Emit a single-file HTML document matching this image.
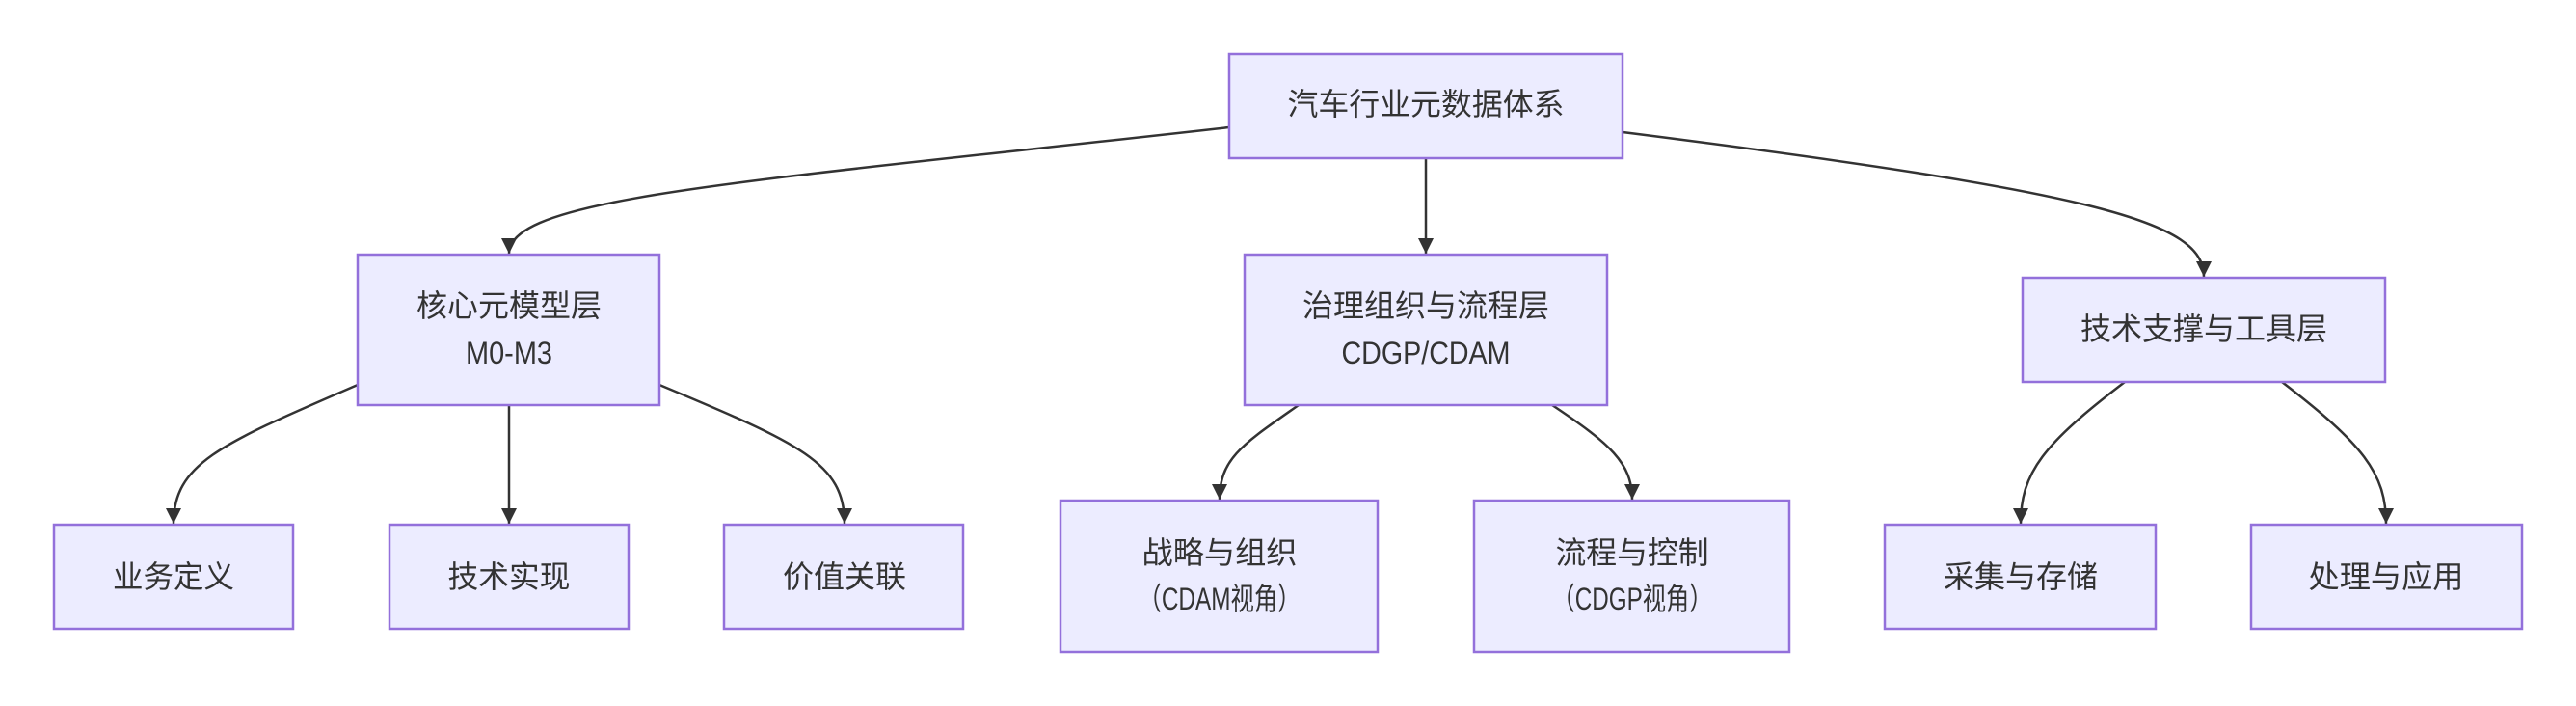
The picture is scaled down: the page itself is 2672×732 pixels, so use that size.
<!DOCTYPE html>
<html><head><meta charset="utf-8"><style>
html,body{margin:0;padding:0;background:#fff;}
svg{display:block;}
text{font-family:"Liberation Sans","Noto Sans CJK SC",sans-serif;fill:#333;font-size:32px;dominant-baseline:central;text-anchor:middle;}
.n{fill:#ECECFF;stroke:#9370DB;stroke-width:2.5;}
.e{fill:none;stroke:#333;stroke-width:2.5;}
</style></head><body>
<svg width="2672" height="732" viewBox="0 0 2672 732" xmlns="http://www.w3.org/2000/svg">
<defs>
<marker id="a" markerUnits="userSpaceOnUse" markerWidth="20" markerHeight="20" refX="16" refY="8" orient="auto">
<path d="M0,0 L16,8 L0,16 z" fill="#333"/>
</marker>
</defs>
<!-- edges -->
<path class="e" marker-end="url(#a)" d="M1275,132 C760,190 528,205 528,263"/>
<path class="e" marker-end="url(#a)" d="M1479,164 L1479,263"/>
<path class="e" marker-end="url(#a)" d="M1683,137 C2180,200 2286,230 2286,287"/>
<path class="e" marker-end="url(#a)" d="M371,399 C230,460 180,480 180,543"/>
<path class="e" marker-end="url(#a)" d="M528,420 L528,543"/>
<path class="e" marker-end="url(#a)" d="M684,399 C830,460 876,480 876,543"/>
<path class="e" marker-end="url(#a)" d="M1347,420 C1290,460 1265,475 1265,518"/>
<path class="e" marker-end="url(#a)" d="M1610,420 C1670,460 1693,480 1693,518"/>
<path class="e" marker-end="url(#a)" d="M2204,396 C2120,460 2096,490 2096,543"/>
<path class="e" marker-end="url(#a)" d="M2367,396 C2450,460 2475,490 2475,543"/>
<!-- nodes -->
<rect class="n" x="1275" y="56" width="408" height="108"/>
<text x="1479" y="108" textLength="287" lengthAdjust="spacingAndGlyphs">汽车行业元数据体系</text>

<rect class="n" x="371" y="264" width="313" height="156"/>
<text x="528" y="317" textLength="192" lengthAdjust="spacingAndGlyphs">核心元模型层</text>
<text x="528" y="366" textLength="90" lengthAdjust="spacingAndGlyphs">M0-M3</text>

<rect class="n" x="1291" y="264" width="376" height="156"/>
<text x="1479" y="317" textLength="256" lengthAdjust="spacingAndGlyphs">治理组织与流程层</text>
<text x="1479" y="366" textLength="175" lengthAdjust="spacingAndGlyphs">CDGP/CDAM</text>

<rect class="n" x="2098" y="288" width="376" height="108"/>
<text x="2286" y="341" textLength="256" lengthAdjust="spacingAndGlyphs">技术支撑与工具层</text>

<rect class="n" x="56" y="544" width="248" height="108"/>
<text x="180" y="598" textLength="126" lengthAdjust="spacingAndGlyphs">业务定义</text>
<rect class="n" x="404" y="544" width="248" height="108"/>
<text x="528" y="598" textLength="127" lengthAdjust="spacingAndGlyphs">技术实现</text>
<rect class="n" x="751" y="544" width="248" height="108"/>
<text x="876" y="598" textLength="128" lengthAdjust="spacingAndGlyphs">价值关联</text>

<rect class="n" x="1100" y="519" width="329" height="157"/>
<text x="1265" y="573" textLength="161" lengthAdjust="spacingAndGlyphs">战略与组织</text>
<text x="1265" y="621" textLength="169" lengthAdjust="spacingAndGlyphs">（CDAM视角）</text>

<rect class="n" x="1529" y="519" width="327" height="157"/>
<text x="1693" y="573" textLength="159" lengthAdjust="spacingAndGlyphs">流程与控制</text>
<text x="1693" y="621" textLength="167" lengthAdjust="spacingAndGlyphs">（CDGP视角）</text>

<rect class="n" x="1955" y="544" width="281" height="108"/>
<text x="2096" y="598" textLength="160" lengthAdjust="spacingAndGlyphs">采集与存储</text>
<rect class="n" x="2335" y="544" width="281" height="108"/>
<text x="2475" y="598" textLength="161" lengthAdjust="spacingAndGlyphs">处理与应用</text>
</svg>
</body></html>
